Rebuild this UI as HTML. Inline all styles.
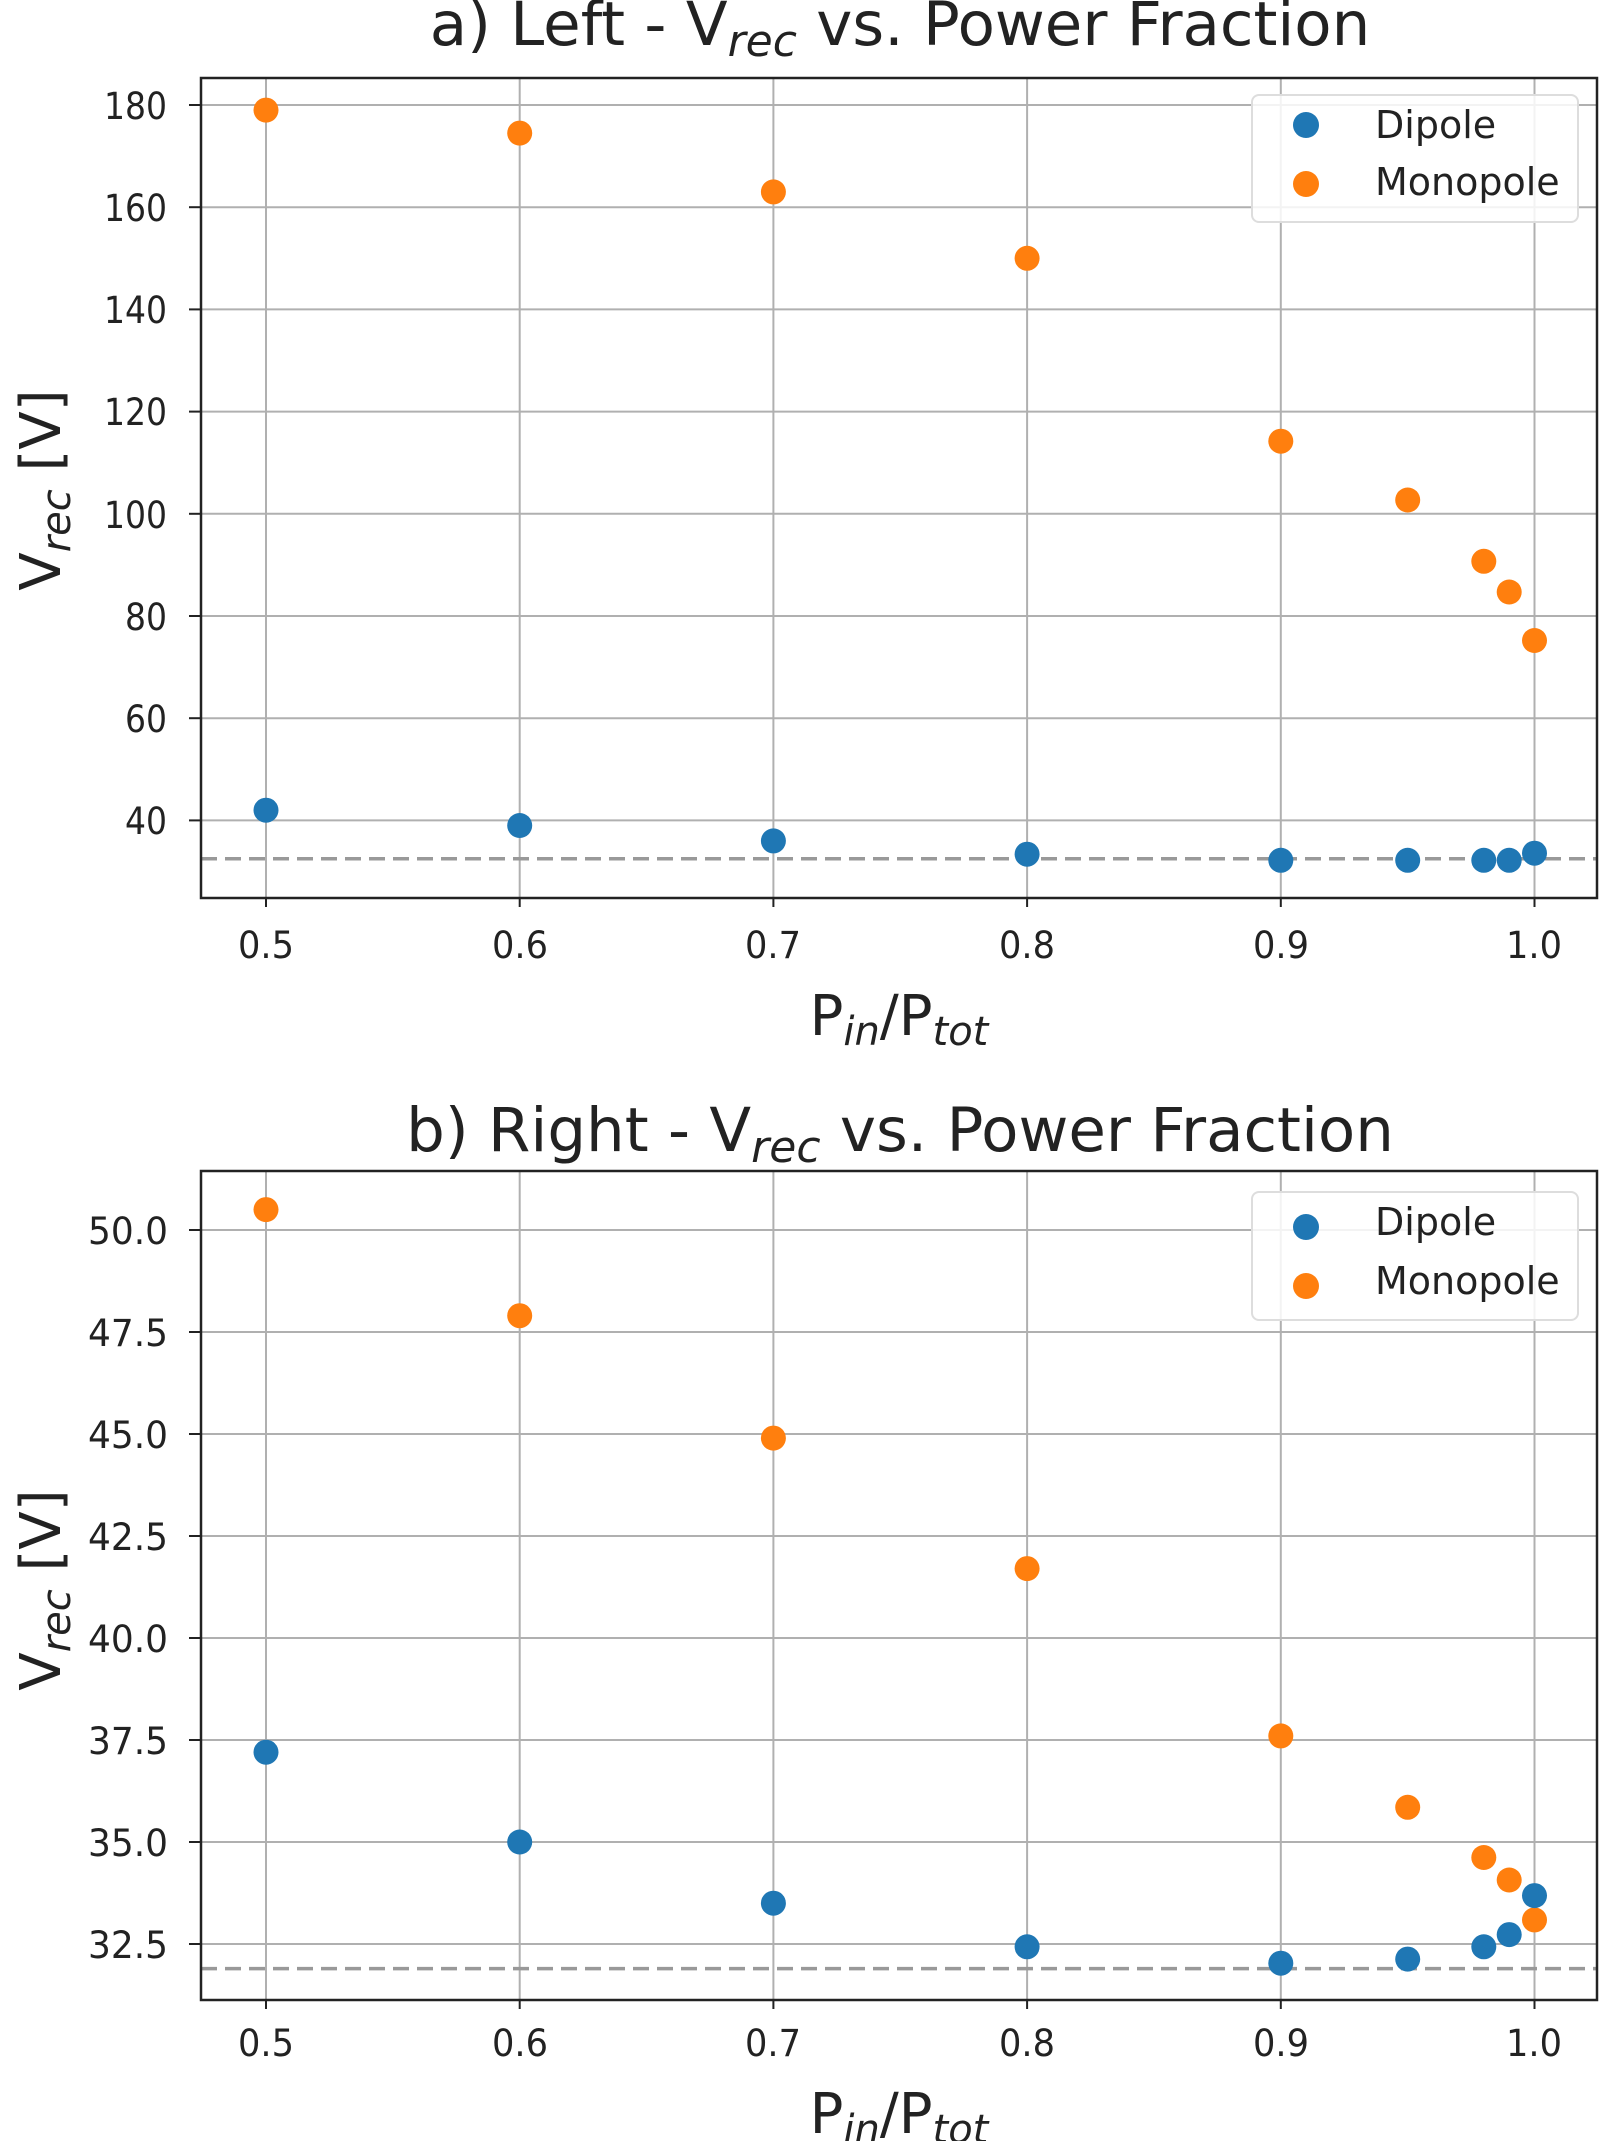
<!DOCTYPE html>
<html><head><meta charset="utf-8">
<style>html,body{margin:0;padding:0;background:#fff}svg{display:block}
text{font-family:"DejaVu Sans","Liberation Sans",sans-serif;fill:#222}</style></head>
<body>
<svg width="1600" height="2141" viewBox="0 0 1600 2141" xmlns="http://www.w3.org/2000/svg">
<!-- TOP PLOT -->
<g stroke="#b0b0b0" stroke-width="2">
<line x1="266" y1="78" x2="266" y2="898"/><line x1="519.7" y1="78" x2="519.7" y2="898"/><line x1="773.4" y1="78" x2="773.4" y2="898"/><line x1="1027.1" y1="78" x2="1027.1" y2="898"/><line x1="1280.8" y1="78" x2="1280.8" y2="898"/><line x1="1534.5" y1="78" x2="1534.5" y2="898"/>
<line x1="201" y1="105" x2="1597" y2="105"/><line x1="201" y1="207.2" x2="1597" y2="207.2"/><line x1="201" y1="309.4" x2="1597" y2="309.4"/><line x1="201" y1="411.6" x2="1597" y2="411.6"/><line x1="201" y1="513.8" x2="1597" y2="513.8"/><line x1="201" y1="616" x2="1597" y2="616"/><line x1="201" y1="718.2" x2="1597" y2="718.2"/><line x1="201" y1="820.4" x2="1597" y2="820.4"/>
</g>
<line x1="201" y1="858.7" x2="1597" y2="858.7" stroke="#999" stroke-width="3.5" stroke-dasharray="16,8"/>
<g fill="#ff7f0e">
<circle cx="266" cy="110.1" r="12.5"/><circle cx="519.7" cy="133.1" r="12.5"/><circle cx="773.4" cy="191.9" r="12.5"/><circle cx="1027.1" cy="258.3" r="12.5"/><circle cx="1280.8" cy="441.2" r="12.5"/><circle cx="1407.7" cy="500" r="12.5"/><circle cx="1483.8" cy="561.3" r="12.5"/><circle cx="1509.2" cy="592" r="12.5"/><circle cx="1534.5" cy="640.5" r="12.5"/>
</g>
<g fill="#1f77b4">
<circle cx="266" cy="810.2" r="12.5"/><circle cx="519.7" cy="825.5" r="12.5"/><circle cx="773.4" cy="840.9" r="12.5"/><circle cx="1027.1" cy="854.2" r="12.5"/><circle cx="1280.8" cy="860.3" r="12.5"/><circle cx="1407.7" cy="860.3" r="12.5"/><circle cx="1483.8" cy="860.3" r="12.5"/><circle cx="1509.2" cy="860.3" r="12.5"/><circle cx="1534.5" cy="853.2" r="12.5"/>
</g>
<rect x="201" y="78" width="1396" height="820" fill="none" stroke="#222" stroke-width="2.5"/>
<g stroke="#222" stroke-width="2">
<line x1="266" y1="898" x2="266" y2="907"/><line x1="519.7" y1="898" x2="519.7" y2="907"/><line x1="773.4" y1="898" x2="773.4" y2="907"/><line x1="1027.1" y1="898" x2="1027.1" y2="907"/><line x1="1280.8" y1="898" x2="1280.8" y2="907"/><line x1="1534.5" y1="898" x2="1534.5" y2="907"/>
<line x1="189" y1="105" x2="201" y2="105"/><line x1="189" y1="207.2" x2="201" y2="207.2"/><line x1="189" y1="309.4" x2="201" y2="309.4"/><line x1="189" y1="411.6" x2="201" y2="411.6"/><line x1="189" y1="513.8" x2="201" y2="513.8"/><line x1="189" y1="616" x2="201" y2="616"/><line x1="189" y1="718.2" x2="201" y2="718.2"/><line x1="189" y1="820.4" x2="201" y2="820.4"/>
</g>
<g font-size="37" lengthAdjust="spacingAndGlyphs">
<text x="104" y="119" textLength="63" lengthAdjust="spacingAndGlyphs">180</text><text x="104" y="221" textLength="63" lengthAdjust="spacingAndGlyphs">160</text><text x="104" y="323" textLength="63" lengthAdjust="spacingAndGlyphs">140</text><text x="104" y="425" textLength="63" lengthAdjust="spacingAndGlyphs">120</text><text x="104" y="528" textLength="63" lengthAdjust="spacingAndGlyphs">100</text><text x="125" y="630" textLength="42" lengthAdjust="spacingAndGlyphs">80</text><text x="125" y="732" textLength="42" lengthAdjust="spacingAndGlyphs">60</text><text x="125" y="834" textLength="42" lengthAdjust="spacingAndGlyphs">40</text>
</g>
<g font-size="37">
<text x="238" y="958" textLength="56" lengthAdjust="spacingAndGlyphs">0.5</text><text x="492" y="958" textLength="56" lengthAdjust="spacingAndGlyphs">0.6</text><text x="745" y="958" textLength="56" lengthAdjust="spacingAndGlyphs">0.7</text><text x="999" y="958" textLength="56" lengthAdjust="spacingAndGlyphs">0.8</text><text x="1253" y="958" textLength="56" lengthAdjust="spacingAndGlyphs">0.9</text><text x="1506" y="958" textLength="56" lengthAdjust="spacingAndGlyphs">1.0</text>
</g>
<text x="899" y="1035" font-size="56" text-anchor="middle">P<tspan font-size="40" dy="10" font-style="italic">in</tspan><tspan dy="-10">/P</tspan><tspan font-size="40" dy="10" font-style="italic">tot</tspan></text>
<text transform="translate(60,490) rotate(-90)" font-size="56" text-anchor="middle">V<tspan font-size="40" dy="10" font-style="italic">rec</tspan><tspan dy="-10"> [V]</tspan></text>
<text x="900" y="45" font-size="61" text-anchor="middle">a) Left - V<tspan font-size="44" dy="11" font-style="italic">rec</tspan><tspan dy="-11"> vs. Power Fraction</tspan></text>
<rect x="1252" y="95" width="326" height="127" rx="7" fill="#fff" fill-opacity="0.85" stroke="#ddd" stroke-width="2"/>
<circle cx="1306" cy="125" r="13" fill="#1f77b4"/><circle cx="1306" cy="184" r="13" fill="#ff7f0e"/>
<text x="1375" y="138" font-size="38">Dipole</text><text x="1375" y="195" font-size="38">Monopole</text>

<!-- BOTTOM PLOT -->
<g stroke="#b0b0b0" stroke-width="2">
<line x1="266" y1="1171" x2="266" y2="2000"/><line x1="519.7" y1="1171" x2="519.7" y2="2000"/><line x1="773.4" y1="1171" x2="773.4" y2="2000"/><line x1="1027.1" y1="1171" x2="1027.1" y2="2000"/><line x1="1280.8" y1="1171" x2="1280.8" y2="2000"/><line x1="1534.5" y1="1171" x2="1534.5" y2="2000"/>
<line x1="201" y1="1230" x2="1597" y2="1230"/><line x1="201" y1="1332" x2="1597" y2="1332"/><line x1="201" y1="1434" x2="1597" y2="1434"/><line x1="201" y1="1536" x2="1597" y2="1536"/><line x1="201" y1="1638" x2="1597" y2="1638"/><line x1="201" y1="1740" x2="1597" y2="1740"/><line x1="201" y1="1842" x2="1597" y2="1842"/><line x1="201" y1="1944" x2="1597" y2="1944"/>
</g>
<line x1="201" y1="1968.6" x2="1597" y2="1968.6" stroke="#999" stroke-width="3.5" stroke-dasharray="16,8"/>
<g fill="#ff7f0e">
<circle cx="266" cy="1209.6" r="12.5"/><circle cx="519.7" cy="1315.7" r="12.5"/><circle cx="773.4" cy="1438.1" r="12.5"/><circle cx="1027.1" cy="1568.6" r="12.5"/><circle cx="1280.8" cy="1735.9" r="12.5"/><circle cx="1407.7" cy="1807.3" r="12.5"/><circle cx="1483.8" cy="1857.5" r="12.5"/><circle cx="1509.2" cy="1880" r="12.5"/><circle cx="1534.5" cy="1919.9" r="12.5"/>
</g>
<g fill="#1f77b4">
<circle cx="266" cy="1752.2" r="12.5"/><circle cx="519.7" cy="1842" r="12.5"/><circle cx="773.4" cy="1903.2" r="12.5"/><circle cx="1027.1" cy="1946.8" r="12.5"/><circle cx="1280.8" cy="1963.2" r="12.5"/><circle cx="1407.7" cy="1959.1" r="12.5"/><circle cx="1483.8" cy="1946.8" r="12.5"/><circle cx="1509.2" cy="1934.6" r="12.5"/><circle cx="1534.5" cy="1895.6" r="12.5"/>
</g>
<rect x="201" y="1171" width="1396" height="829" fill="none" stroke="#222" stroke-width="2.5"/>
<g stroke="#222" stroke-width="2">
<line x1="266" y1="2000" x2="266" y2="2009"/><line x1="519.7" y1="2000" x2="519.7" y2="2009"/><line x1="773.4" y1="2000" x2="773.4" y2="2009"/><line x1="1027.1" y1="2000" x2="1027.1" y2="2009"/><line x1="1280.8" y1="2000" x2="1280.8" y2="2009"/><line x1="1534.5" y1="2000" x2="1534.5" y2="2009"/>
<line x1="189" y1="1230" x2="201" y2="1230"/><line x1="189" y1="1332" x2="201" y2="1332"/><line x1="189" y1="1434" x2="201" y2="1434"/><line x1="189" y1="1536" x2="201" y2="1536"/><line x1="189" y1="1638" x2="201" y2="1638"/><line x1="189" y1="1740" x2="201" y2="1740"/><line x1="189" y1="1842" x2="201" y2="1842"/><line x1="189" y1="1944" x2="201" y2="1944"/>
</g>
<g font-size="37">
<text x="88" y="1244" textLength="80" lengthAdjust="spacingAndGlyphs">50.0</text><text x="88" y="1346" textLength="80" lengthAdjust="spacingAndGlyphs">47.5</text><text x="88" y="1448" textLength="80" lengthAdjust="spacingAndGlyphs">45.0</text><text x="88" y="1550" textLength="80" lengthAdjust="spacingAndGlyphs">42.5</text><text x="88" y="1652" textLength="80" lengthAdjust="spacingAndGlyphs">40.0</text><text x="88" y="1754" textLength="80" lengthAdjust="spacingAndGlyphs">37.5</text><text x="88" y="1856" textLength="80" lengthAdjust="spacingAndGlyphs">35.0</text><text x="88" y="1958" textLength="80" lengthAdjust="spacingAndGlyphs">32.5</text>
</g>
<g font-size="37">
<text x="238" y="2056" textLength="56" lengthAdjust="spacingAndGlyphs">0.5</text><text x="492" y="2056" textLength="56" lengthAdjust="spacingAndGlyphs">0.6</text><text x="745" y="2056" textLength="56" lengthAdjust="spacingAndGlyphs">0.7</text><text x="999" y="2056" textLength="56" lengthAdjust="spacingAndGlyphs">0.8</text><text x="1253" y="2056" textLength="56" lengthAdjust="spacingAndGlyphs">0.9</text><text x="1506" y="2056" textLength="56" lengthAdjust="spacingAndGlyphs">1.0</text>
</g>
<text x="899" y="2133" font-size="56" text-anchor="middle">P<tspan font-size="40" dy="10" font-style="italic">in</tspan><tspan dy="-10">/P</tspan><tspan font-size="40" dy="10" font-style="italic">tot</tspan></text>
<text transform="translate(60,1590) rotate(-90)" font-size="56" text-anchor="middle">V<tspan font-size="40" dy="10" font-style="italic">rec</tspan><tspan dy="-10"> [V]</tspan></text>
<text x="900" y="1151" font-size="61" text-anchor="middle">b) Right - V<tspan font-size="44" dy="11" font-style="italic">rec</tspan><tspan dy="-11"> vs. Power Fraction</tspan></text>
<rect x="1252" y="1192" width="326" height="128" rx="7" fill="#fff" fill-opacity="0.85" stroke="#ddd" stroke-width="2"/>
<circle cx="1306" cy="1227" r="13" fill="#1f77b4"/><circle cx="1306" cy="1286" r="13" fill="#ff7f0e"/>
<text x="1375" y="1235" font-size="38">Dipole</text><text x="1375" y="1294" font-size="38">Monopole</text>
</svg>
</body></html>
